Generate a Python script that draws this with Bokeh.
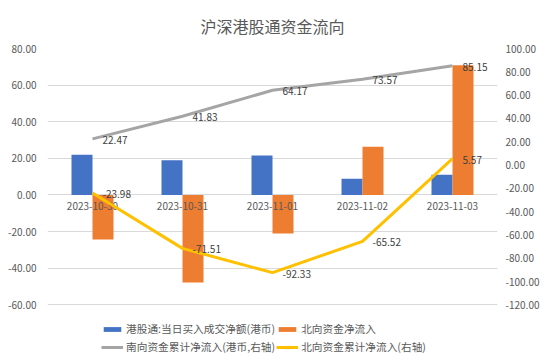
from bokeh.plotting import figure
from bokeh.models import Range1d, LinearAxis, FactorRange, Legend, LegendItem, NumeralTickFormatter, FixedTicker
from bokeh.transform import dodge
from bokeh.embed import file_html
from bokeh.resources import INLINE
from bokeh.core.properties import value

dates = ["2023-10-30", "2023-10-31", "2023-11-01", "2023-11-02", "2023-11-03"]
hk_net_buy = [22.0, 19.0, 21.6, 8.9, 11.1]
north_net = [-24.3, -47.8, -21.0, 26.3, 70.8]
south_cum = [22.47, 41.83, 64.17, 73.57, 85.15]
north_cum = [-23.98, -71.51, -92.33, -65.52, 5.57]
left_ticks = [-60, -40, -20, 0, 20, 40, 60, 80]
right_ticks = [-120, -100, -80, -60, -40, -20, 0, 20, 40, 60, 80, 100]

title_text = "沪深港股通资金流向"
names = ["港股通:当日买入成交净额(港币)", "北向资金净流入", "南向资金累计净流入(港币,右轴)", "北向资金累计净流入(右轴)"]

FONT = "Noto Sans CJK SC"
TXT = "#595959"

W, H = 550, 363
TOP, AXIS_BOTTOM, LEFT, RIGHT = 46, 304, 47, 497
# the frame runs to the bottom edge so the legend can sit inside it;
# the value axes keep their span between TOP and AXIS_BOTTOM
extra = (H - AXIS_BOTTOM) / (AXIS_BOTTOM - TOP)
l_lo, l_hi = min(left_ticks), max(left_ticks)
r_lo, r_hi = min(right_ticks), max(right_ticks)

p = figure(width=W, height=H, output_backend="svg", toolbar_location=None,
           x_range=FactorRange(*dates, range_padding=0),
           y_range=Range1d(l_lo - extra * (l_hi - l_lo), l_hi),
           min_border_left=LEFT, min_border_right=W - RIGHT, min_border_top=TOP, min_border_bottom=0)
p.extra_y_ranges = {"right": Range1d(r_lo - extra * (r_hi - r_lo), r_hi)}
p.outline_line_color = None
p.title.text = title_text
p.title.align = "center"
p.title.text_font = FONT
p.title.text_font_size = "16px"
p.title.text_font_style = "normal"
p.title.text_color = TXT
p.title.standoff = 22

# bars
r1 = p.vbar(x=dodge("x", -0.1167, range=p.x_range), top="v", width=0.2333,
            source={"x": dates, "v": hk_net_buy}, fill_color="#4472C4", line_color=None)
r2 = p.vbar(x=dodge("x", 0.1167, range=p.x_range), top="v", width=0.2333,
            source={"x": dates, "v": north_net}, fill_color="#ED7D31", line_color=None)

# category labels sitting under the zero line
p.text(x=dates, y=[0] * len(dates), text=dates, y_offset=7, text_align="center",
       text_baseline="top", text_font=value(FONT), text_font_size="10px", text_color=TXT)

# lines on right axis
r3 = p.line(dates, south_cum, y_range_name="right", line_color="#A5A5A5", line_width=3)
r4 = p.line(dates, north_cum, y_range_name="right", line_color="#FFC000", line_width=3)

for vals in (south_cum, north_cum):
    p.text(x=dates, y=vals, text=[f"{v:.2f}" for v in vals], y_range_name="right",
           x_offset=10, y_offset=1, text_align="left", text_baseline="middle",
           text_font=value(FONT), text_font_size="10px", text_color="#404040")

# left axis
ya = p.yaxis[0]
ya.ticker = FixedTicker(ticks=left_ticks)
ya.formatter = NumeralTickFormatter(format="0.00")
ya.axis_line_color = None
ya.major_tick_line_color = None
ya.minor_tick_line_color = None
ya.major_tick_out = 0
ya.major_tick_in = 0
ya.major_label_standoff = 11
ya.major_label_text_font = FONT
ya.major_label_text_font_size = "10px"
ya.major_label_text_color = TXT

ra = LinearAxis(y_range_name="right", ticker=FixedTicker(ticks=right_ticks),
                formatter=NumeralTickFormatter(format="0.00"))
ra.axis_line_color = None
ra.major_tick_line_color = None
ra.minor_tick_line_color = None
ra.major_tick_out = 0
ra.major_tick_in = 0
ra.major_label_standoff = 8
ra.major_label_text_font = FONT
ra.major_label_text_font_size = "10px"
ra.major_label_text_color = TXT
p.add_layout(ra, "right")

p.xaxis.visible = False

p.xgrid.grid_line_color = None
p.ygrid.grid_line_color = "#D9D9D9"
p.ygrid.ticker = FixedTicker(ticks=left_ticks)

legend = Legend(items=[LegendItem(label=names[0], renderers=[r1]),
                       LegendItem(label=names[2], renderers=[r3]),
                       LegendItem(label=names[1], renderers=[r2]),
                       LegendItem(label=names[3], renderers=[r4])],
                ncols=2, location=(54, 8), orientation="vertical")
legend.label_text_font = FONT
legend.label_text_font_size = "10.7px"
legend.label_text_color = TXT
legend.glyph_width = 22
legend.glyph_height = 6
legend.label_height = 17
legend.label_standoff = 3
legend.spacing = 1
legend.padding = 2
legend.margin = 0
legend.border_line_color = None
legend.background_fill_alpha = 0
p.add_layout(legend)

open("out.html", "w").write(file_html(p, INLINE))
